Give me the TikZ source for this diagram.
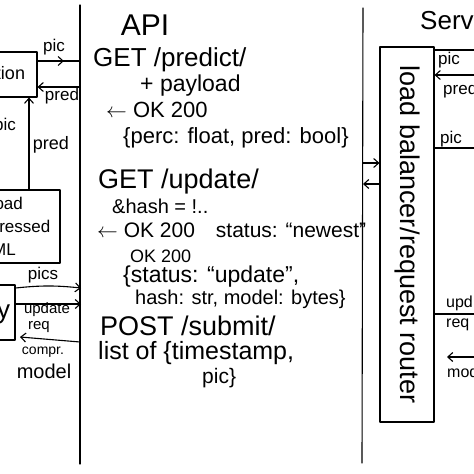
\documentclass[tikz,border=0pt]{standalone}
\usepackage{fontspec}
\setmainfont{Liberation Sans}
\usetikzlibrary{arrows.meta,decorations.markings}
\tikzset{
  pen/.style={line width=1.1pt, line join=round, line cap=round},
  arr/.style={pen, -{Straight Barb[length=5pt,width=9pt]}},
  midarr/.style={pen, postaction={decorate},
    decoration={markings, mark=at position 0.62 with {\arrow{Straight Barb[length=5pt,width=9pt]}}}},
  box/.style={pen, draw, inner sep=0pt},
  lbl/.style={font=\fontsize{#1}{#1}\selectfont, inner sep=0pt},
  ln/.style={lbl=#1, anchor=base west},
}
\begin{document}
\begin{tikzpicture}[x=1pt,y=-1pt]
\useasboundingbox (0,0) rectangle (474,474);

% lanes
\coordinate (l1t) at (80,5);
\coordinate (l1b) at (80,464);
\coordinate (l2t) at (363,8);
\coordinate (l2b) at (362,463);
\draw [pen] (l1t) -- (l1b);
\draw [pen] (l2t) -- (l2b);

\node [lbl=30] (api) at (145,25) {API};
\node [ln=26] (srv) at (420,29) {Server};

% client side
\node [box, lbl=18, minimum width=110pt, minimum height=45pt] (app) at (-18,74.5) {application};
\node [box, font=\fontsize{17}{23}\selectfont, align=center, minimum width=112pt, minimum height=73pt] (cmp) at (4,226.5) {Load\\compressed\\ML};
\node [box, lbl=26, minimum width=76pt, minimum height=55pt] (prx) at (-23,312.5) {Proxy};

\coordinate (cA) at (80,61);
\coordinate (cB) at (80,87);
\coordinate (vx) at (29,0);
\coordinate (pA) at (81,288);
\coordinate (pB) at (81,304);
\coordinate (pC) at (80,342);
\coordinate (pD) at (20,337);

\draw [midarr] (cA -| app.east) -- (cA);
\draw [arr] (cB) -- (cB -| app.east);
\draw [arr] (vx |- cmp.north) -- (vx |- app.south);
\draw [arr] (prx.east |- pA) to [bend left=6] (pA);
\draw [arr] (prx.east |- pB) -- (pB);
\draw [arr] (pC) -- (pD);

\node [lbl=17] (t1) at (54,47) {pic};
\node [lbl=17] (t2) at (62,96) {pred};
\node [lbl=17, anchor=east] (t3) at (16,126) {pic};
\node [lbl=18] (t4) at (51,145) {pred};
\node [lbl=17] (t5) at (43,275) {pics};
\node [lbl=15] (t6) at (47,310) {update};
\node [lbl=15] (t7) at (39,327) {req};
\node [lbl=14] (t8) at (43,352) {compr.};
\node [lbl=20] (t9) at (44,371) {model};

% API calls
\node [ln=26] (m1) at (93,66) {GET /predict/};
\node [ln=23] (m2) at (140,91) {+ payload};
\node [ln=22] (m3) at (106,117) {$\leftarrow$ OK 200};
\node [ln=22] (m4) at (123,143) {\{perc: float, pred: bool\}};
\node [ln=27] (m5) at (98,188) {GET /update/};
\node [ln=20] (m6) at (112,213) {\&hash = !..};
\node [ln=21] (m7) at (97,237) {$\leftarrow$ OK 200\quad status: “newest”};
\node [ln=18] (m8) at (130,262) {OK 200};
\node [ln=23] (m9) at (123,282) {\{status: “update”,};
\node [ln=20] (m10) at (135,304) {hash: str, model: bytes\}};
\node [ln=27] (m11) at (100,335) {POST /submit/};
\node [ln=25] (m12) at (98,359) {list of \{timestamp,};
\node [ln=21] (m13) at (202,383) {pic\}};

% server side
\node [box, minimum width=54pt, minimum height=375pt] (lb) at (407,234.5) {};
\node [lbl=27, rotate=-90] (lbt) at (lb.center) {load balancer/request router};

\coordinate (sA) at (363,163);
\coordinate (sB) at (363,184);
\draw [arr] (sA) -- (sA -| lb.west);
\draw [arr] (sB -| lb.west) -- (sB);

\coordinate (r1) at (490,50);
\coordinate (r2) at (490,75);
\coordinate (r3) at (490,148);
\coordinate (r4) at (490,314);
\coordinate (r5) at (490,357);
\draw [pen] (r1 -| lb.east) -- (r1);
\draw [arr] (r2) -- (r2 -| lb.east);
\draw [pen] (r3 -| lb.east) -- (r3);
\draw [pen] (r4 -| lb.east) -- (r4);
\draw [arr] (r5) -- (447,357);

\node [lbl=17] (s1) at (449,60) {pic};
\node [lbl=17, anchor=west] (s2) at (443,90) {pred};
\node [lbl=17] (s3) at (451,139) {pic};
\node [lbl=16, anchor=west] (s4) at (446,303) {upd};
\node [lbl=16, anchor=west] (s5) at (446,325) {req};
\node [lbl=16, anchor=west] (s6) at (447,372) {mod};
\end{tikzpicture}
\end{document}
